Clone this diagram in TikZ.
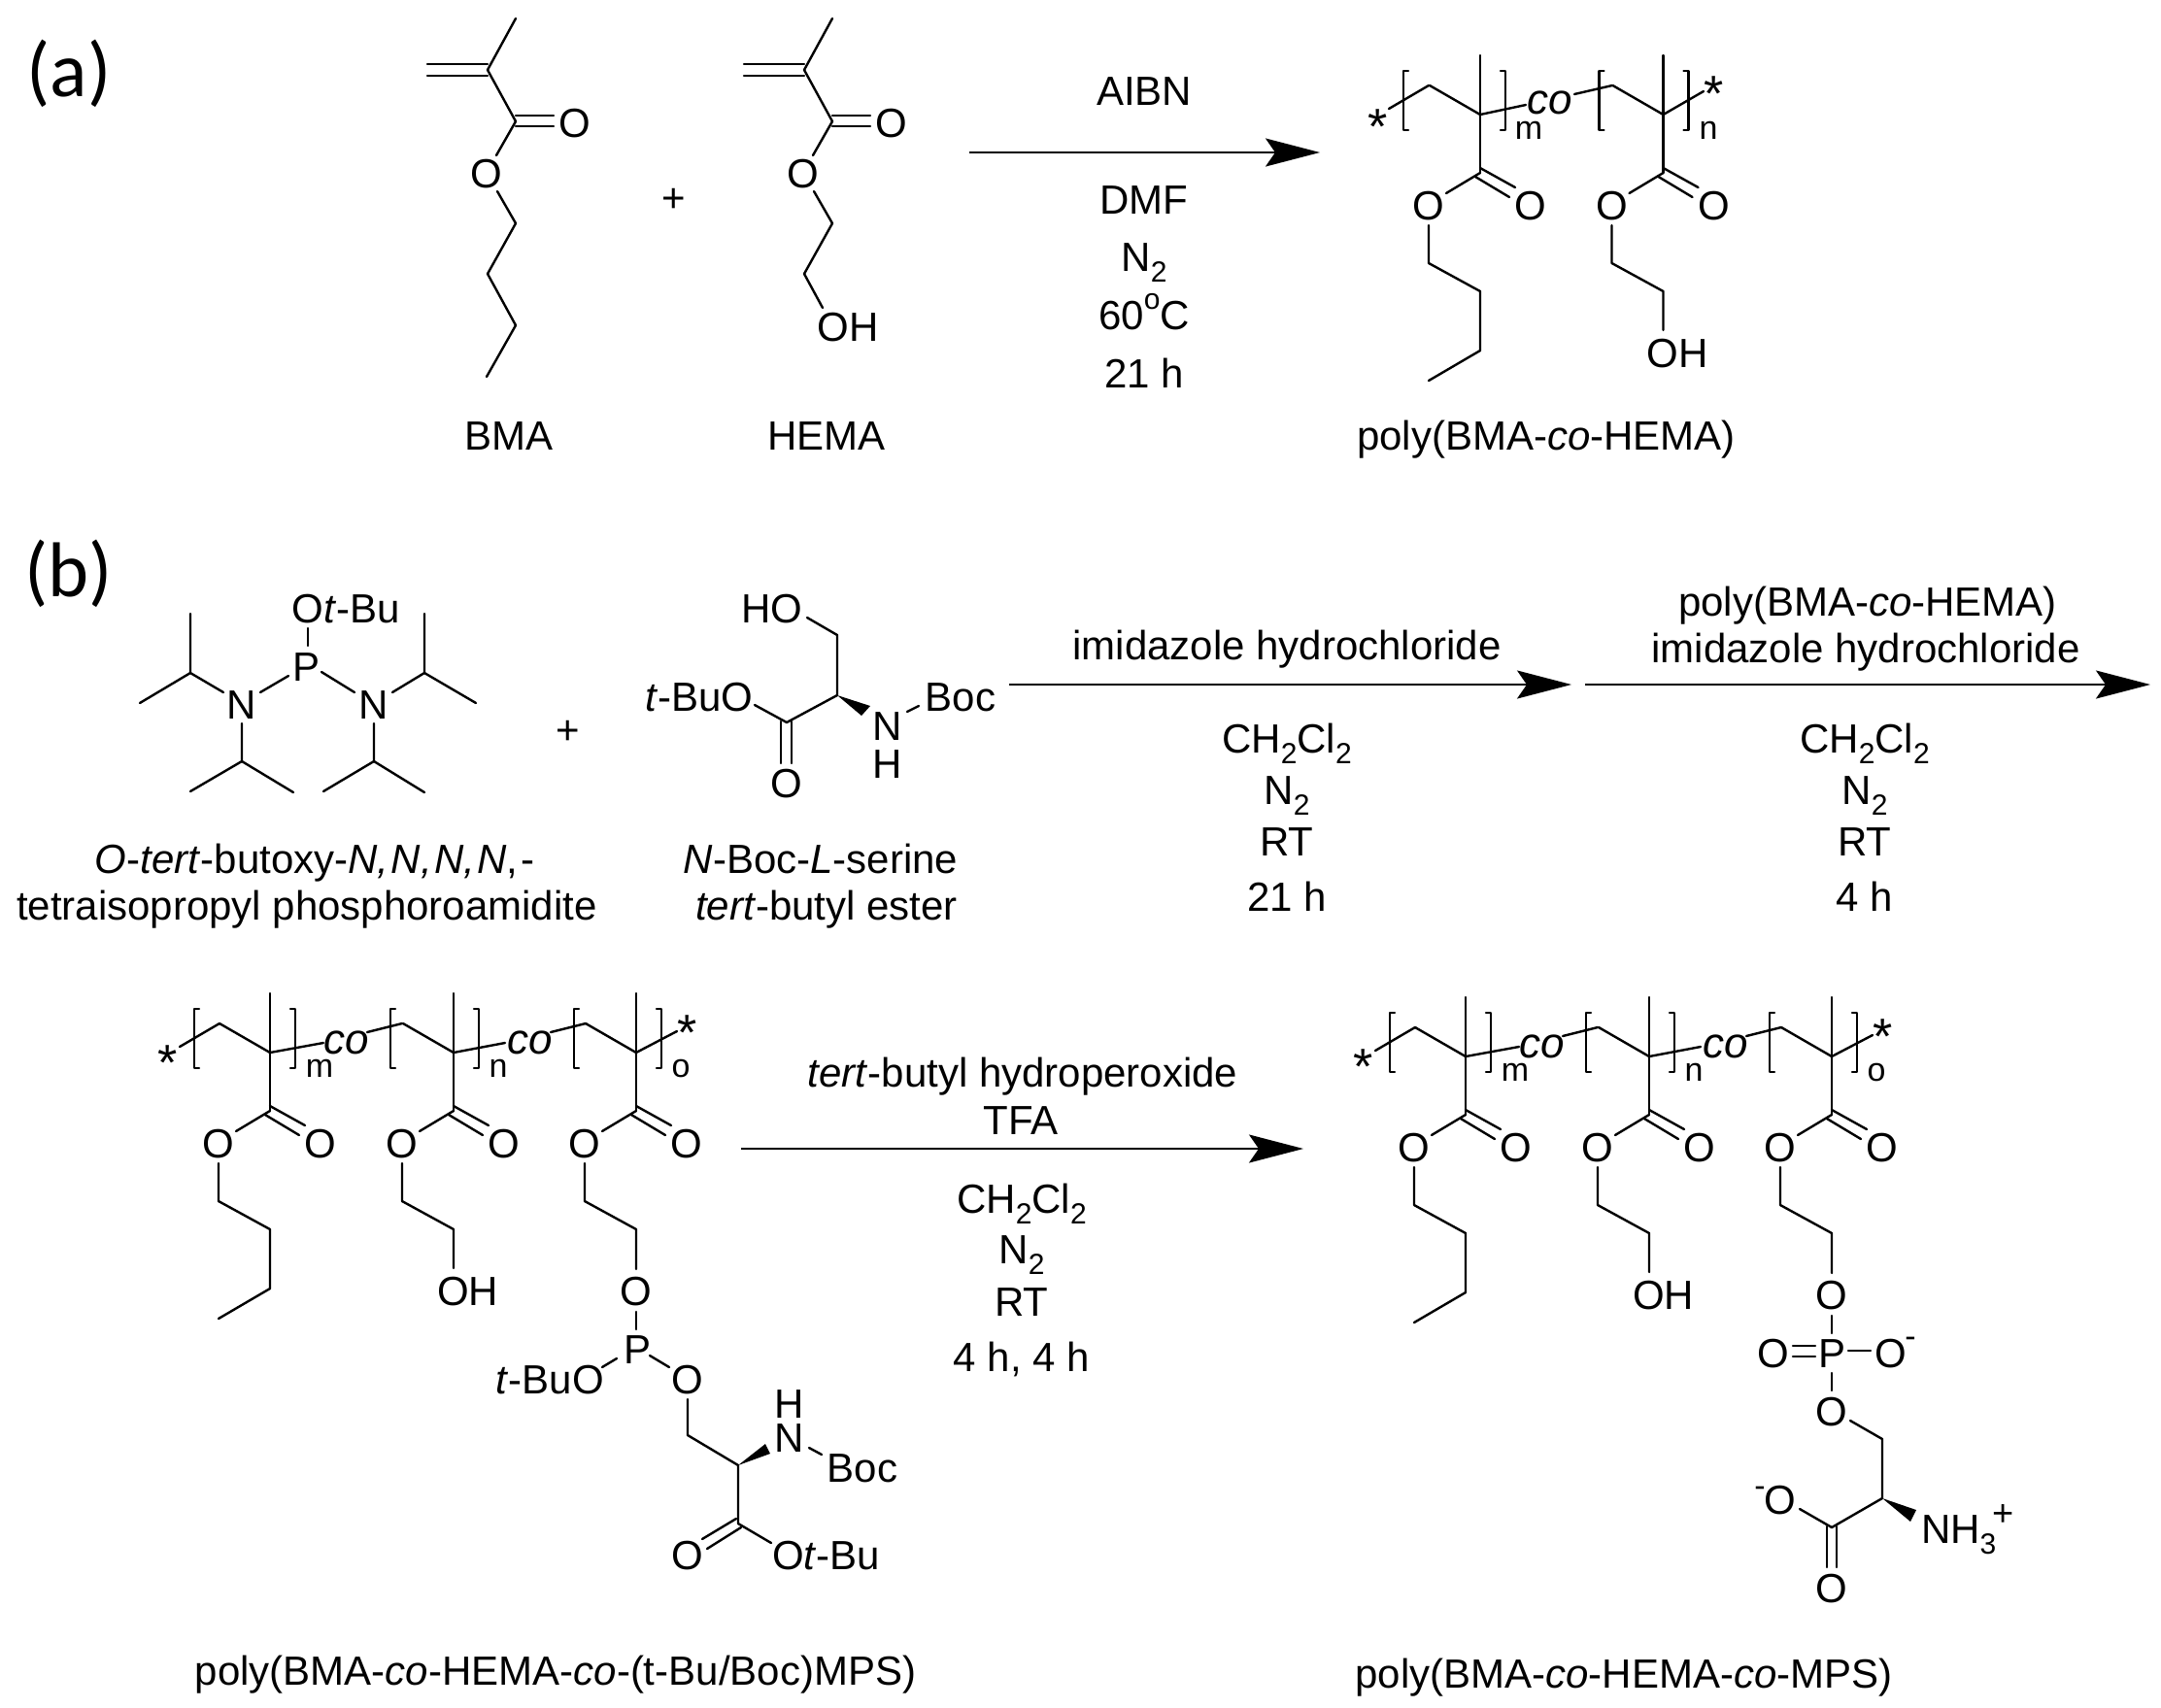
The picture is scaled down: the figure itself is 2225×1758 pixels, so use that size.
\documentclass[tikz,border=0pt]{standalone}
\usepackage{fontspec}
\setmainfont{Liberation Sans}
\newfontfamily\calib{Carlito}
\usetikzlibrary{arrows.meta}
\newcommand\lsub[1]{\raisebox{-0.28em}{\fontsize{15}{15}\selectfont #1}}
\newcommand\lsup[1]{\raisebox{0.5em}{\fontsize{15}{15}\selectfont #1}}
\tikzset{
  bond/.style={line width=1.2pt,line cap=round,line join=round,black},
  rxn/.style={line width=1.05pt,black,-{Stealth[length=28pt,width=14.5pt,inset=5pt]}},
  wedge/.style={fill=black,draw=none},
  lab/.style={inner sep=0pt,outer sep=0pt,font=\fontsize{21}{21}\selectfont,text height=14pt,text depth=0pt,anchor=center},
  labl/.style={lab,anchor=west},
  labr/.style={lab,anchor=east},
  small/.style={inner sep=0pt,outer sep=0pt,font=\fontsize{17}{17}\selectfont,text height=8.8pt,text depth=0pt,anchor=center},
  star/.style={inner sep=0pt,outer sep=0pt,font=\fontsize{26}{26}\selectfont,anchor=center},
  panel/.style={inner sep=0pt,outer sep=0pt,font=\calib\fontsize{40}{40}\selectfont,anchor=center},
}
% one repeating unit of the polymer backbone, Q at the origin; #4 = left bracket offset
\newcommand\polyunit[4]{%
\begin{scope}[shift={(#1,#2)}]
  \draw[bond] (0,-61) -- (0,60);
  \draw[bond] (-52,-30) -- (0,0);
  \draw[bond] (#4+5,-45) -- (#4,-45) -- (#4,16) -- (#4+5,16);
  \draw[bond] (21,-45) -- (26,-45) -- (26,16) -- (21,16);
  \draw[bond] (-35,81) -- (0,60);
  \draw[bond] (0,55) -- (36,75);
  \draw[bond] (-5,64) -- (30,85);
  \node[lab] (#3oa) at (-53,94) {O};
  \node[lab] (#3ob) at (52,94) {O};
\end{scope}}
\newcommand\butyl[2]{%
\begin{scope}[shift={(#1,#2)}]
  \draw[bond] (-53,114) -- (-53,153) -- (0,182) -- (0,243) -- (-53,274);
\end{scope}}
\newcommand\hydroxy[3]{%
\begin{scope}[shift={(#1,#2)}]
  \draw[bond] (-53,114) -- (-53,153) -- (0,182) -- (0,222);
  \node[lab] (#3oh) at (14.5,246) {OH};
\end{scope}}
% the three-unit polymer of panel (b)
\newcommand\polyb[3]{%
\begin{scope}[shift={(#1,#2)}]
  \polyunit{278}{1084}{#3u}{-78}
  \polyunit{467}{1084}{#3v}{-65}
  \polyunit{655}{1084}{#3w}{-64}
  \butyl{278}{1084}
  \hydroxy{467}{1084}{#3v}
  \draw[bond] (185,1078) -- (226,1054);
  \draw[bond] (278,1084) -- (333,1074);
  \draw[bond] (378,1063) -- (414,1054);
  \draw[bond] (467,1084) -- (520,1074);
  \draw[bond] (567,1063) -- (603,1054);
  \draw[bond] (655,1084) -- (697,1062);
  \draw[bond] (602,1198) -- (602,1237) -- (655,1266) -- (655,1307);
  \node[star] (#3s1) at (173,1095) {*};
  \node[star] (#3s2) at (708,1064) {*};
  \node[lab,font=\itshape\fontsize{22}{22}\selectfont] (#3c1) at (357,1071) {co};
  \node[lab,font=\itshape\fontsize{22}{22}\selectfont] (#3c2) at (546,1071) {co};
  \node[small] (#3m) at (329,1101) {m};
  \node[small] (#3n) at (513,1101) {n};
  \node[small] (#3o) at (701,1101) {o};
  \node[lab] (#3ot) at (655,1330) {O};
  \draw[bond] (655,1351) -- (655,1369);
\end{scope}}
\begin{document}
\begin{tikzpicture}[x=0.5pt,y=-0.5pt]
\useasboundingbox (0,0) rectangle (2225,1758);
\fill[white] (0,0) rectangle (2225,1758);

\node[panel] (pa) at (71,76) {(a)};
\node[panel] (pb) at (71,591) {(b)};

% ---- BMA
\draw[bond] (531,19) -- (502,72) -- (531,125) -- (511,160);
\draw[bond] (440,66) -- (502,66);
\draw[bond] (440,78) -- (502,78);
\draw[bond] (531,119) -- (570,119);
\draw[bond] (531,130) -- (570,130);
\draw[bond] (512,197) -- (531,230) -- (502,282) -- (531,335) -- (501,388);
\node[lab] (bmaO) at (592,127) {O};
\node[lab] (bmaE) at (501,179) {O};
\node[lab] (bmaL) at (524,449) {BMA};
\node[lab] (plusa) at (694,204) {+};
% ---- HEMA
\draw[bond] (857,19) -- (828,72) -- (857,125) -- (837,160);
\draw[bond] (766,66) -- (828,66);
\draw[bond] (766,78) -- (828,78);
\draw[bond] (857,119) -- (896,119);
\draw[bond] (857,130) -- (896,130);
\draw[bond] (838,197) -- (857,230) -- (828,282) -- (847,317);
\node[lab] (hemaO) at (918,127) {O};
\node[lab] (hemaE) at (827,179) {O};
\node[lab] (hemaH) at (873,337) {OH};
\node[lab] (hemaL) at (851,449) {HEMA};

% ---- arrow (a)
\coordinate (a1s) at (998,157);
\coordinate (a1e) at (1359,157);
\draw[rxn] (a1s) -- (a1e);
\node[lab] (t1) at (1178,94) {AIBN};
\node[lab] (t2) at (1178,206) {DMF};
\node[lab] (t3) at (1178,265) {N\lsub{2}};
\node[lab] (t4) at (1178,325) {60\lsup{o}C};
\node[lab] (t5) at (1178,385) {21 h};

% ---- poly(BMA-co-HEMA)
\polyunit{1524}{118}{pa}{-79}
\polyunit{1712.5}{118}{pb}{-66}
\butyl{1524}{118}
\hydroxy{1712.5}{118}{pb}
\draw[bond] (1430,112) -- (1471,88);
\draw[bond] (1524,118) -- (1571,108);
\draw[bond] (1621,97) -- (1660,88);
\draw[bond] (1712.5,118) -- (1754,94);
\node[star] (as1) at (1419,131) {*};
\node[star] (as2) at (1765,97) {*};
\node[lab,font=\itshape\fontsize{22}{22}\selectfont] (aco) at (1596,103) {co};
\node[small] (am) at (1574,135) {m};
\node[small] (an) at (1759,135) {n};
\node[lab] (paL) at (1592,449) {poly(BMA-\textit{co}-HEMA)};

% ---- phosphoroamidite
\node[lab] (otbu) at (356,627) {O\textit{t}-Bu};
\node[lab] (p1) at (316,687) {P};
\node[lab] (n1) at (249,726) {N};
\node[lab] (n2) at (385,726) {N};
\draw[bond] (317,647) -- (317,665);
\draw[bond] (297,696) -- (268,713);
\draw[bond] (331,692) -- (365,713);
\draw[bond] (230,713) -- (196,693) -- (196,632);
\draw[bond] (196,693) -- (144,724);
\draw[bond] (404,713) -- (437,693) -- (437,632);
\draw[bond] (437,693) -- (490,724);
\draw[bond] (249,745) -- (249,784) -- (196,815);
\draw[bond] (249,784) -- (302,816);
\draw[bond] (385,745) -- (385,784) -- (333,815);
\draw[bond] (385,784) -- (437,816);
\node[lab] (pl1) at (324,885) {\textit{O}-\textit{tert}-butoxy-\textit{N,\kern1.2pt N,\kern1.2pt N,\kern1.2pt N},\kern1.2pt -};
\node[lab] (pl2) at (316,933) {tetraisopropyl phosphoroamidite};
\node[lab] (plusb) at (585,752) {+};

% ---- serine
\node[lab] (ho) at (795,627) {HO};
\node[lab] (tbo) at (720,718) {\textit{t}-BuO};
\node[lab] (so) at (810,807) {O};
\node[lab] (sn) at (914,748) {N};
\node[lab] (sh) at (914,787) {H};
\node[lab] (sboc) at (989,718) {Boc};
\draw[bond] (831,636) -- (862,654) -- (862,716) -- (810,744) -- (777,726);
\draw[bond] (804,743) -- (804,786);
\draw[bond] (815,743) -- (815,786);
\draw[bond] (934,733) -- (946,727);
\fill[wedge] (862,716) -- (896,727) -- (887,737) -- cycle;
\node[lab] (sl1) at (845,885) {\textit{N}-Boc-\textit{L}-serine};
\node[lab] (sl2) at (851,933) {\textit{tert}-butyl ester};

% ---- arrows (b), top row
\coordinate (a2s) at (1039,705);
\coordinate (a2e) at (1618,705);
\draw[rxn] (a2s) -- (a2e);
\coordinate (a3s) at (1632,705);
\coordinate (a3e) at (2214,705);
\draw[rxn] (a3s) -- (a3e);
\node[lab] (u1) at (1325,665) {imidazole hydrochloride};
\node[lab] (u2) at (1325,761) {CH\lsub{2}Cl\lsub{2}};
\node[lab] (u3) at (1325,814) {N\lsub{2}};
\node[lab] (u4) at (1325,867) {RT};
\node[lab] (u5) at (1325,924) {21 h};
\node[lab] (v0) at (1923,620) {poly(BMA-\textit{co}-HEMA)};
\node[lab] (v1) at (1921,668) {imidazole hydrochloride};
\node[lab] (v2) at (1920,761) {CH\lsub{2}Cl\lsub{2}};
\node[lab] (v3) at (1920,814) {N\lsub{2}};
\node[lab] (v4) at (1920,867) {RT};
\node[lab] (v5) at (1920,924) {4 h};

% ---- protected polymer
\polyb{0}{0}{l}
\node[lab] (lp) at (656,1390) {P};
\node[labr] (ltb) at (622,1421) {\textit{t}-BuO};
\node[lab] (lo2) at (708,1421) {O};
\node[lab] (ln) at (813,1481) {N};
\node[lab] (lh) at (813,1446) {H};
\node[lab] (lboc) at (888,1512) {Boc};
\node[lab] (lod) at (708,1602) {O};
\node[labl] (lot) at (795,1602) {O\textit{t}-Bu};
\draw[bond] (620,1408) -- (635,1399);
\draw[bond] (669,1396) -- (689,1408);
\draw[bond] (708,1441) -- (708,1478) -- (760,1509) -- (760,1569) -- (794,1589);
\draw[bond] (758,1564) -- (723,1585);
\draw[bond] (763,1573) -- (728,1595);
\draw[bond] (833,1491) -- (846,1498);
\fill[wedge] (760,1509) -- (788,1487) -- (793,1497) -- cycle;
\node[lab] (ll) at (572,1721) {poly(BMA-\textit{co}-HEMA-\textit{co}-(t-Bu/Boc)MPS)};

% ---- arrow 3
\coordinate (a4s) at (763,1183);
\coordinate (a4e) at (1342,1183);
\draw[rxn] (a4s) -- (a4e);
\node[lab] (w1) at (1053,1105) {\textit{tert}-butyl hydroperoxide};
\node[lab] (w2) at (1051,1154) {TFA};
\node[lab] (w3) at (1052,1235) {CH\lsub{2}Cl\lsub{2}};
\node[lab] (w4) at (1052,1287) {N\lsub{2}};
\node[lab] (w5) at (1052,1341) {RT};
\node[lab] (w6) at (1052,1398) {4 h, 4 h};

% ---- deprotected polymer
\polyb{1231}{4}{r}
\node[lab] (rp) at (1886,1394) {P};
\node[lab] (rol) at (1826,1394) {O};
\node[lab] (ror) at (1947,1394) {O};
\node[small] (rm1) at (1967,1379) {-};
\node[lab] (rob) at (1886,1454) {O};
\node[lab] (rcoo) at (1833,1545) {O};
\node[small] (rm2) at (1812,1533) {-};
\node[lab] (rcod) at (1886,1636) {O};
\node[labl] (rn) at (1978,1575) {NH\lsub{3}};
\node[small,font=\fontsize{19}{19}\selectfont] (rplus) at (2063,1563) {+};
\draw[bond] (1846,1386) -- (1869,1386);
\draw[bond] (1846,1397) -- (1869,1397);
\draw[bond] (1903,1391) -- (1926,1391);
\draw[bond] (1886,1414) -- (1886,1432);
\draw[bond] (1905,1463) -- (1938,1482) -- (1938,1543) -- (1886,1573) -- (1853,1554);
\draw[bond] (1881,1572) -- (1881,1614);
\draw[bond] (1891,1572) -- (1891,1614);
\fill[wedge] (1938,1543) -- (1973,1555) -- (1967,1567) -- cycle;
\node[lab] (rl) at (1672,1724) {poly(BMA-\textit{co}-HEMA-\textit{co}-MPS)};
\end{tikzpicture}
\end{document}
